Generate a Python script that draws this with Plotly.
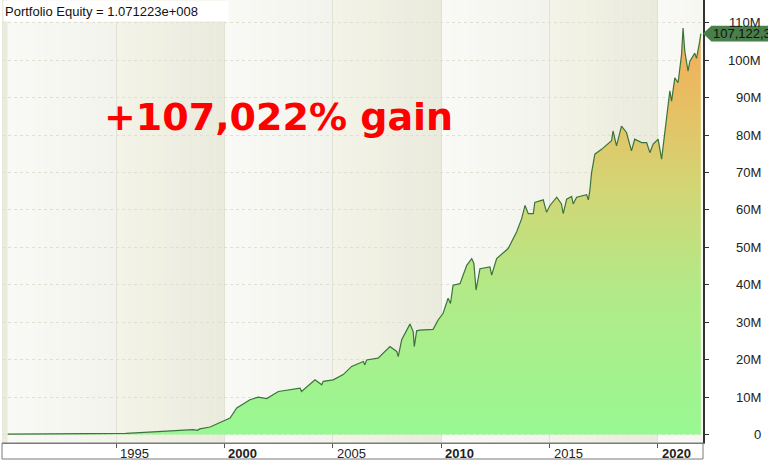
import plotly.graph_objects as go

# ---- data ----
years = [1990.0, 1995.3, 1995.45, 1996.1, 1997.0, 1997.95, 1998.55, 1998.75, 1998.87, 1999.34,
         1999.8, 2000.26, 2000.57, 2001.18, 2001.56, 2001.95, 2002.49, 2003.49, 2003.56, 2004.18,
         2004.49, 2004.56, 2005.02, 2005.48, 2005.87, 2006.41, 2006.48, 2006.56, 2007.09, 2007.64,
         2007.95, 2008.02, 2008.18, 2008.56, 2008.71, 2008.76, 2008.87, 2009.02, 2009.63, 2009.86,
         2010.09, 2010.32, 2010.43, 2010.55, 2010.87, 2011.18, 2011.41, 2011.51, 2011.61, 2011.79,
         2012.25, 2012.33, 2012.56, 2013.09, 2013.48, 2013.71, 2013.87, 2014.02, 2014.25, 2014.32,
         2014.71, 2014.86, 2015.02, 2015.33, 2015.55, 2015.63, 2015.79, 2016.02, 2016.09, 2016.25,
         2016.71, 2016.79, 2016.86, 2016.94, 2017.09, 2017.40, 2017.86, 2017.93, 2018.09, 2018.32,
         2018.55, 2018.78, 2018.93, 2019.25, 2019.48, 2019.63, 2019.78, 2020.01, 2020.17, 2020.32,
         2020.40, 2020.55, 2020.63, 2020.78, 2020.93, 2021.09, 2021.16, 2021.24, 2021.39, 2021.47,
         2021.70, 2021.78, 2021.93, 2021.98]
equity_m = [0.1, 0.1, 0.3, 0.5, 0.8, 1.0, 1.3, 1.1, 1.5, 2.0,
            3.1, 4.4, 7.1, 9.3, 10.0, 9.6, 11.5, 12.4, 11.5, 14.6,
            13.3, 14.2, 14.6, 16.0, 18.2, 19.5, 18.6, 19.9, 20.4, 23.5,
            22.2, 20.8, 25.3, 29.5, 27.5, 23.5, 27.7, 27.9, 28.1, 30.6,
            32.4, 36.4, 35.0, 39.9, 40.3, 45.2, 47.0, 45.7, 38.6, 44.3,
            44.8, 42.6, 47.0, 49.7, 54.1, 57.6, 61.2, 59.0, 59.0, 62.0,
            62.7, 59.4, 61.2, 63.4, 61.6, 59.0, 62.9, 63.6, 61.6, 63.4,
            64.1, 62.7, 65.2, 70.0, 74.9, 76.2, 78.5, 81.1, 77.1, 82.4,
            80.7, 75.8, 78.9, 78.0, 78.0, 75.3, 77.6, 78.9, 73.6, 80.2,
            84.2, 91.8, 89.1, 95.3, 94.0, 101.5, 108.6, 102.4, 97.1, 99.7,
            101.9, 100.5, 105.1, 107.1223]
equity = [v * 1e6 for v in equity_m]

x_ticks = [1995, 2000, 2005, 2010, 2015, 2020]
x_tick_text = ["1995", "<b>2000</b>", "2005", "<b>2010</b>", "2015", "<b>2020</b>"]
y_ticks = [0, 10e6, 20e6, 30e6, 40e6, 50e6, 60e6, 70e6, 80e6, 90e6, 100e6, 110e6]
y_tick_text = ["0", "10M", "20M", "30M", "40M", "50M", "60M", "70M", "80M", "90M", "100M", "110M"]
band_starts = [1985, 1990, 1995, 2000, 2005, 2010, 2015, 2020]

title_text = "Portfolio Equity = 1.071223e+008"
gain_text = "+107,022% gain"
last_label = "107,122,300"

FONT = "Liberation Sans, Arial, sans-serif"

fig = go.Figure()

fig.add_trace(go.Scatter(
    x=years, y=equity, mode="lines",
    line=dict(color="#3b743b", width=1.2),
    fill="tozeroy",
    fillgradient=dict(type="vertical", start=0, stop=max(equity),
                      colorscale=[[0, "#98f892"], [0.35, "#b2ea88"], [0.6, "#d2d675"],
                                  [0.8, "#e6c064"], [1, "#f4ac5a"]]),
    hoverinfo="skip", showlegend=False,
))


def mix(c1, c2, t):
    a = [int(c1[i:i + 2], 16) for i in (1, 3, 5)]
    b = [int(c2[i:i + 2], 16) for i in (1, 3, 5)]
    return "#%02x%02x%02x" % tuple(round(a[k] + (b[k] - a[k]) * t) for k in range(3))


shapes = []
N = 12
for i, s in enumerate(band_starts):
    dark = (s // 5) % 2 == 1
    c0, c1 = ("#f3f3e7", "#eaeadd") if dark else ("#f9f9f5", "#f3f3ee")
    for k in range(N):
        shapes.append(dict(type="rect", xref="x", yref="paper",
                           x0=s + 5 * k / N, x1=s + 5 * (k + 1) / N, y0=0, y1=1,
                           fillcolor=mix(c0, c1, k / (N - 1)), line=dict(width=0),
                           layer="below"))

# bottom strip border
shapes.append(dict(type="rect", xref="paper", yref="paper", x0=0, x1=1,
                   y0=-16 / 443, y1=0, line=dict(color="#7a7a7a", width=1),
                   fillcolor="rgba(0,0,0,0)", layer="above"))

# value tag on the right axis
last_y = equity[-1]
shapes.append(dict(type="path", xref="paper", yref="y",
                   path=(f"M 1.0,{last_y} L 1.012,{last_y + 2.1e6} L 1.2,{last_y + 2.1e6} "
                         f"L 1.2,{last_y - 2.1e6} L 1.012,{last_y - 2.1e6} Z"),
                   fillcolor="#4a7e4a", line=dict(width=0), layer="above"))

fig.update_layout(shapes=shapes)

annotations = []
for t, txt in zip(x_ticks, x_tick_text):
    annotations.append(dict(x=t, xref="x", y=0, yref="paper", text=txt, showarrow=False,
                            xanchor="left", yanchor="top", xshift=2, yshift=-1,
                            font=dict(family=FONT, size=13, color="#222")))
for v, txt in zip(y_ticks, y_tick_text):
    annotations.append(dict(x=1, xref="paper", y=v, yref="y", text=txt, showarrow=False,
                            xanchor="right", yanchor="middle", xshift=60,
                            font=dict(family=FONT, size=13, color="#222")))

annotations.append(dict(x=1, xref="paper", y=last_y, yref="y", text=last_label,
                        showarrow=False, xanchor="left", yanchor="middle", xshift=8,
                        font=dict(family=FONT, size=13, color="#111")))

annotations.append(dict(x=0, xref="paper", y=1, yref="paper", text=title_text,
                        showarrow=False, xanchor="left", yanchor="top", align="left",
                        bgcolor="white", width=222, height=18, borderpad=1, xshift=1,
                        font=dict(family=FONT, size=13, color="#111")))

annotations.append(dict(x=0.395, xref="paper", y=0.735, yref="paper", text=f"<b>{gain_text}</b>",
                        showarrow=False, xanchor="center", yanchor="middle",
                        font=dict(family="DejaVu Sans, Verdana, sans-serif", size=38, color="#ff0000")))

fig.update_layout(
    annotations=annotations,
    width=768, height=462,
    margin=dict(l=2, r=65, t=0, b=19, pad=0, autoexpand=False),
    paper_bgcolor="white",
    plot_bgcolor="#f7f7f2",
    showlegend=False,
    xaxis=dict(range=[1989.74, 2022.08], tickvals=x_ticks, showticklabels=False,
               ticks="outside", ticklen=4, tickcolor="#555",
               showgrid=True, gridcolor="#e2e2d4", gridwidth=1,
               showline=True, linecolor="#7a7a7a", linewidth=1, mirror=True,
               zeroline=False, fixedrange=True),
    yaxis=dict(range=[-2.27e6, 116.1e6], side="right", tickvals=y_ticks, showticklabels=False,
               ticks="outside", ticklen=4, tickcolor="#333",
               showgrid=True, gridcolor="#e0e0d2", griddash="dot", gridwidth=1,
               showline=True, linecolor="#333", linewidth=1.5,
               zeroline=False, fixedrange=True),
)

fig.write_html("out.html", config={"displayModeBar": False},
               post_script="document.body.style.margin='0px';document.body.style.overflow='hidden';")
